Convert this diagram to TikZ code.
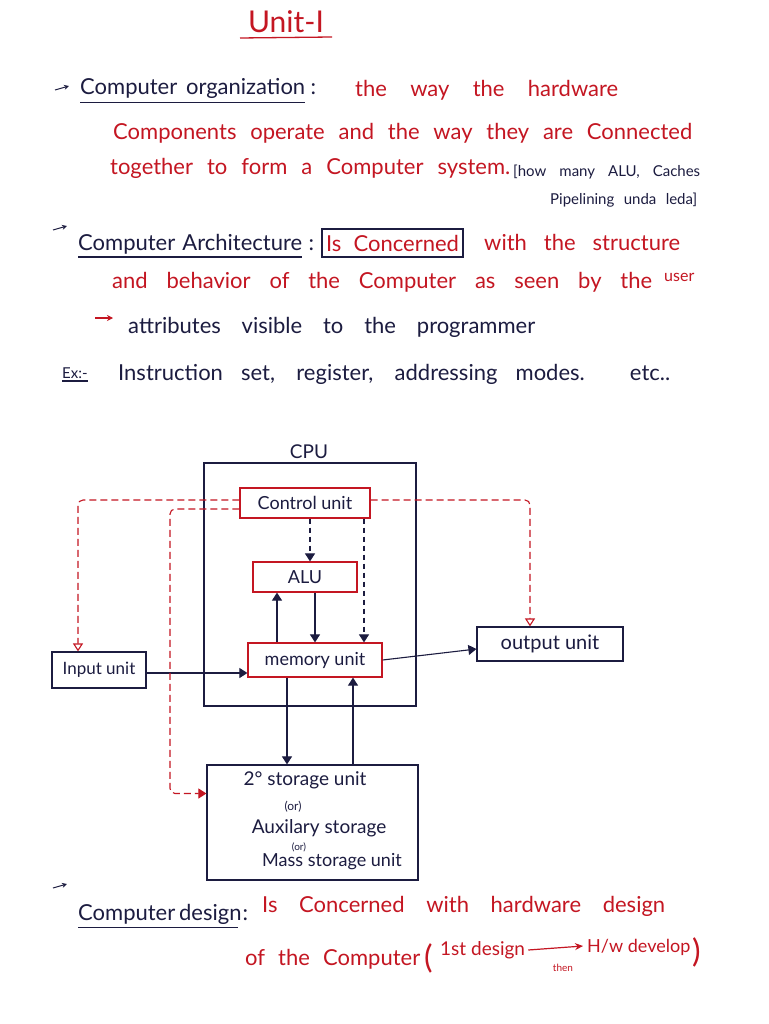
\documentclass[tikz,border=0pt]{standalone}
\usepackage{fontspec}
\setmainfont{Lato}
\usetikzlibrary{arrows.meta}
\definecolor{inkred}{RGB}{196,22,34}
\definecolor{ink}{RGB}{28,28,64}
\newcommand\spreadto[2]{\makebox[#1pt][s]{#2}}
\begin{document}
\begin{tikzpicture}[x=1pt,y=-1pt,
  big/.style={inner sep=0pt, anchor=base west, font=\fontsize{22}{26}\selectfont},
  small/.style={inner sep=0pt, anchor=base west, font=\fontsize{15}{17}\selectfont},
  rtxt/.style={text=inkred},
  btxt/.style={text=ink},
  uline/.style={draw=ink, line width=1.2pt},
  redbox/.style={draw=inkred, line width=1.2pt, text=ink, inner sep=0pt, font=\fontsize{18}{20}\selectfont},
  darkbox/.style={draw=ink, line width=1.2pt, text=ink, inner sep=0pt, font=\fontsize{18}{20}\selectfont},
  stotxt/.style={inner sep=0pt, text=ink, font=\fontsize{18}{20}\selectfont},
  navyarr/.style={draw=ink, line width=1.1pt, -{Triangle[width=10pt,length=8pt]}},
  navydash/.style={navyarr, dash pattern=on 5pt off 4pt},
  redopen/.style={draw=inkred, line width=1.1pt, dash pattern=on 7pt off 4pt, rounded corners=5pt, -{Triangle[open,width=10pt,length=8pt]}},
  redfill/.style={draw=inkred, line width=1.1pt, dash pattern=on 7pt off 4pt, rounded corners=5pt, -{Triangle[width=10pt,length=8pt]}},
  bullet/.style={draw=ink, line width=1pt, -{Stealth[length=5pt,width=5pt]}}
]
\useasboundingbox[fill=white] (0,0) rectangle (768,1024);

% ---- title
\node[inner sep=0pt, anchor=base, text=inkred, font=\fontsize{30}{32}\selectfont] (title) at (286,33) {Unit-I};
\draw[draw=inkred, line width=1.3pt] (240,38) -- (332,37);

% ---- Computer organization
\coordinate (b1s) at (55,90); \coordinate (b1e) at (69,86);
\draw[bullet] (b1s) -- (b1e);
\node[big,btxt] (co) at (80,95) {\spreadto{225}{Computer organization}};
\node[big,btxt] (co2) at ([xshift=5pt]co.base east) {:};
\draw[uline] ([yshift=-3pt]co.south west) -- ([yshift=-3pt]co.south east);
\node[big,rtxt] (l1) at (355,97) {\spreadto{263}{the way the hardware}};
\node[big,rtxt] (l2) at (113,140) {\spreadto{579}{Components operate and the way they are Connected}};
\node[big,rtxt] (l3) at (110,175) {\spreadto{400}{together to form a Computer system.}};
\node[small,btxt] (l3b) at (513,177) {\spreadto{187}{[how many ALU, Caches}};
\node[small,btxt] (l4) at (550,205) {\spreadto{147}{Pipelining unda leda]}};

% ---- Computer Architecture
\coordinate (b2s) at (53,230); \coordinate (b2e) at (67,226);
\draw[bullet] (b2s) -- (b2e);
\node[big,btxt] (ca) at (78,250) {\spreadto{224}{Computer Architecture}};
\node[big,btxt] (ca2) at ([xshift=6pt]ca.base east) {:};
\draw[uline] ([yshift=-3pt]ca.south west) -- ([yshift=-3pt]ca.south east);
\node[draw=ink, line width=1.2pt, text=inkred, inner sep=0pt, minimum width=141pt, minimum height=28pt, font=\fontsize{22}{26}\selectfont] (isc) at (392.5,243) {\spreadto{133}{Is Concerned}};
\node[big,rtxt] (l5) at (484,250) {\spreadto{196}{with the structure}};
\node[big,rtxt] (l6) at (112,288) {\spreadto{540}{and behavior of the Computer as seen by the}};
\node[inner sep=0pt, anchor=base west, text=inkred, font=\fontsize{16}{18}\selectfont] (l6b) at (664,281) {user};
\coordinate (b3s) at (95,318); \coordinate (b3e) at (113,318);
\draw[draw=inkred, line width=1.3pt, -{Stealth[length=6pt,width=6pt]}] (b3s) -- (b3e);
\node[big,btxt] (l7) at (128,333) {\spreadto{407}{attributes visible to the programmer}};
\node[inner sep=0pt, anchor=base west, text=ink, font=\fontsize{15}{18}\selectfont] (ex) at (62,378) {Ex:-};
\draw[uline] ([yshift=-3pt]ex.base west) -- ([yshift=-3pt]ex.base east);
\node[big,btxt] (l8) at (118,380) {\spreadto{552}{Instruction set, register, addressing modes. etc..}};

% ---- diagram
\node[inner sep=0pt, text=ink, font=\fontsize{19}{21}\selectfont] (cpulbl) at (309,452) {CPU};
\node[draw=ink, line width=1.2pt, minimum width=212pt, minimum height=243pt, inner sep=0pt] (cpu) at (310,584.5) {};
\node[redbox, minimum width=130pt, minimum height=30pt] (cu) at (305,503) {Control unit};
\node[redbox, minimum width=104pt, minimum height=30pt] (alu) at (305,577) {ALU};
\node[redbox, minimum width=134pt, minimum height=34pt] (mem) at (315,660) {memory unit};
\node[darkbox, minimum width=94pt, minimum height=36pt, font=\fontsize{17}{19}\selectfont] (inp) at (99,670) {Input unit};
\node[darkbox, minimum width=146pt, minimum height=34pt, font=\fontsize{20}{22}\selectfont] (out) at (550,644) {output unit};
\node[darkbox, minimum width=211pt, minimum height=115pt] (sto) at (312.5,822.5) {};
\node[stotxt, font=\fontsize{19}{21}\selectfont] (s1) at (305,780) {2\textdegree\ storage unit};
\node[stotxt, font=\fontsize{12}{14}\selectfont] (s2) at (293,807) {(or)};
\node[stotxt, font=\fontsize{19}{21}\selectfont] (s3) at (319,828) {Auxilary storage};
\node[stotxt, font=\fontsize{10}{12}\selectfont] (s4) at (299,847) {(or)};
\node[stotxt] (s5) at (332,862) {Mass storage unit};

% solid / dark connectors
\draw[navydash] ([xshift=5pt]cu.south) -- ([xshift=5pt]alu.north);
\draw[navyarr] (alu.south -| mem.north) -- (mem.north);
\draw[navyarr] ([xshift=-38pt]mem.north) -- ([xshift=-38pt]mem.north |- alu.south);
\draw[navydash] ([xshift=49pt]mem.north |- cu.south) -- ([xshift=49pt]mem.north);
\draw[navyarr] ([yshift=-3pt]inp.east) -- ([yshift=-3pt]inp.east -| mem.west);
\draw[navyarr] (mem.east) -- ([yshift=-5pt]out.west);
\draw[navyarr] ([xshift=-28pt]mem.south) -- ([xshift=-28pt]mem.south |- sto.north);
\draw[navyarr] ([xshift=38pt]mem.south |- sto.north) -- ([xshift=38pt]mem.south);

% red control lines
\draw[redopen] ([yshift=3pt]cu.west) -| ([xshift=-21pt]inp.north);
\coordinate (kx) at (170,0);
\coordinate (sb) at ([yshift=29pt]sto.west);
\draw[redfill] ([yshift=-6pt]cu.west) -| (kx |- sb) -- (sb);
\draw[redopen] ([yshift=3pt]cu.east) -| ([xshift=-20pt]out.north);

% ---- Computer design
\coordinate (b4s) at (53,888); \coordinate (b4e) at (67,884);
\draw[bullet] (b4s) -- (b4e);
\node[big,btxt] (cd) at (78,920) {\spreadto{160}{Computer design}};
\node[big,btxt] (cd2) at ([xshift=4pt]cd.base east) {:};
\draw[uline] ([yshift=-3pt]cd.south west) -- ([yshift=-3pt]cd.south east);
\node[big,rtxt] (d1) at (262,912) {\spreadto{403}{Is Concerned with hardware design}};
\node[big,rtxt] (d2) at (245,965) {\spreadto{175}{of the Computer}};
\node[inner sep=0pt, anchor=base west, text=inkred, font=\fontsize{32}{34}\selectfont] (p1) at (424,968) {(};
\node[inner sep=0pt, anchor=base west, text=inkred, font=\fontsize{19}{21}\selectfont] (d3) at (440,955) {1st design};
\node[inner sep=0pt, anchor=base west, text=inkred, font=\fontsize{18}{20}\selectfont] (d4) at (587,952) {H/w develop};
\node[inner sep=0pt, anchor=base west, text=inkred, font=\fontsize{32}{34}\selectfont] (p2) at (692,962) {)};
\draw[draw=inkred, line width=1.2pt, -{Stealth[length=8pt,width=7pt]}] ([xshift=3pt,yshift=5pt]d3.base east) -- ([xshift=-4pt,yshift=6pt]d4.base west);
\node[inner sep=0pt, text=inkred, font=\fontsize{10}{12}\selectfont] (then) at (563,968) {then};
\end{tikzpicture}
\end{document}
